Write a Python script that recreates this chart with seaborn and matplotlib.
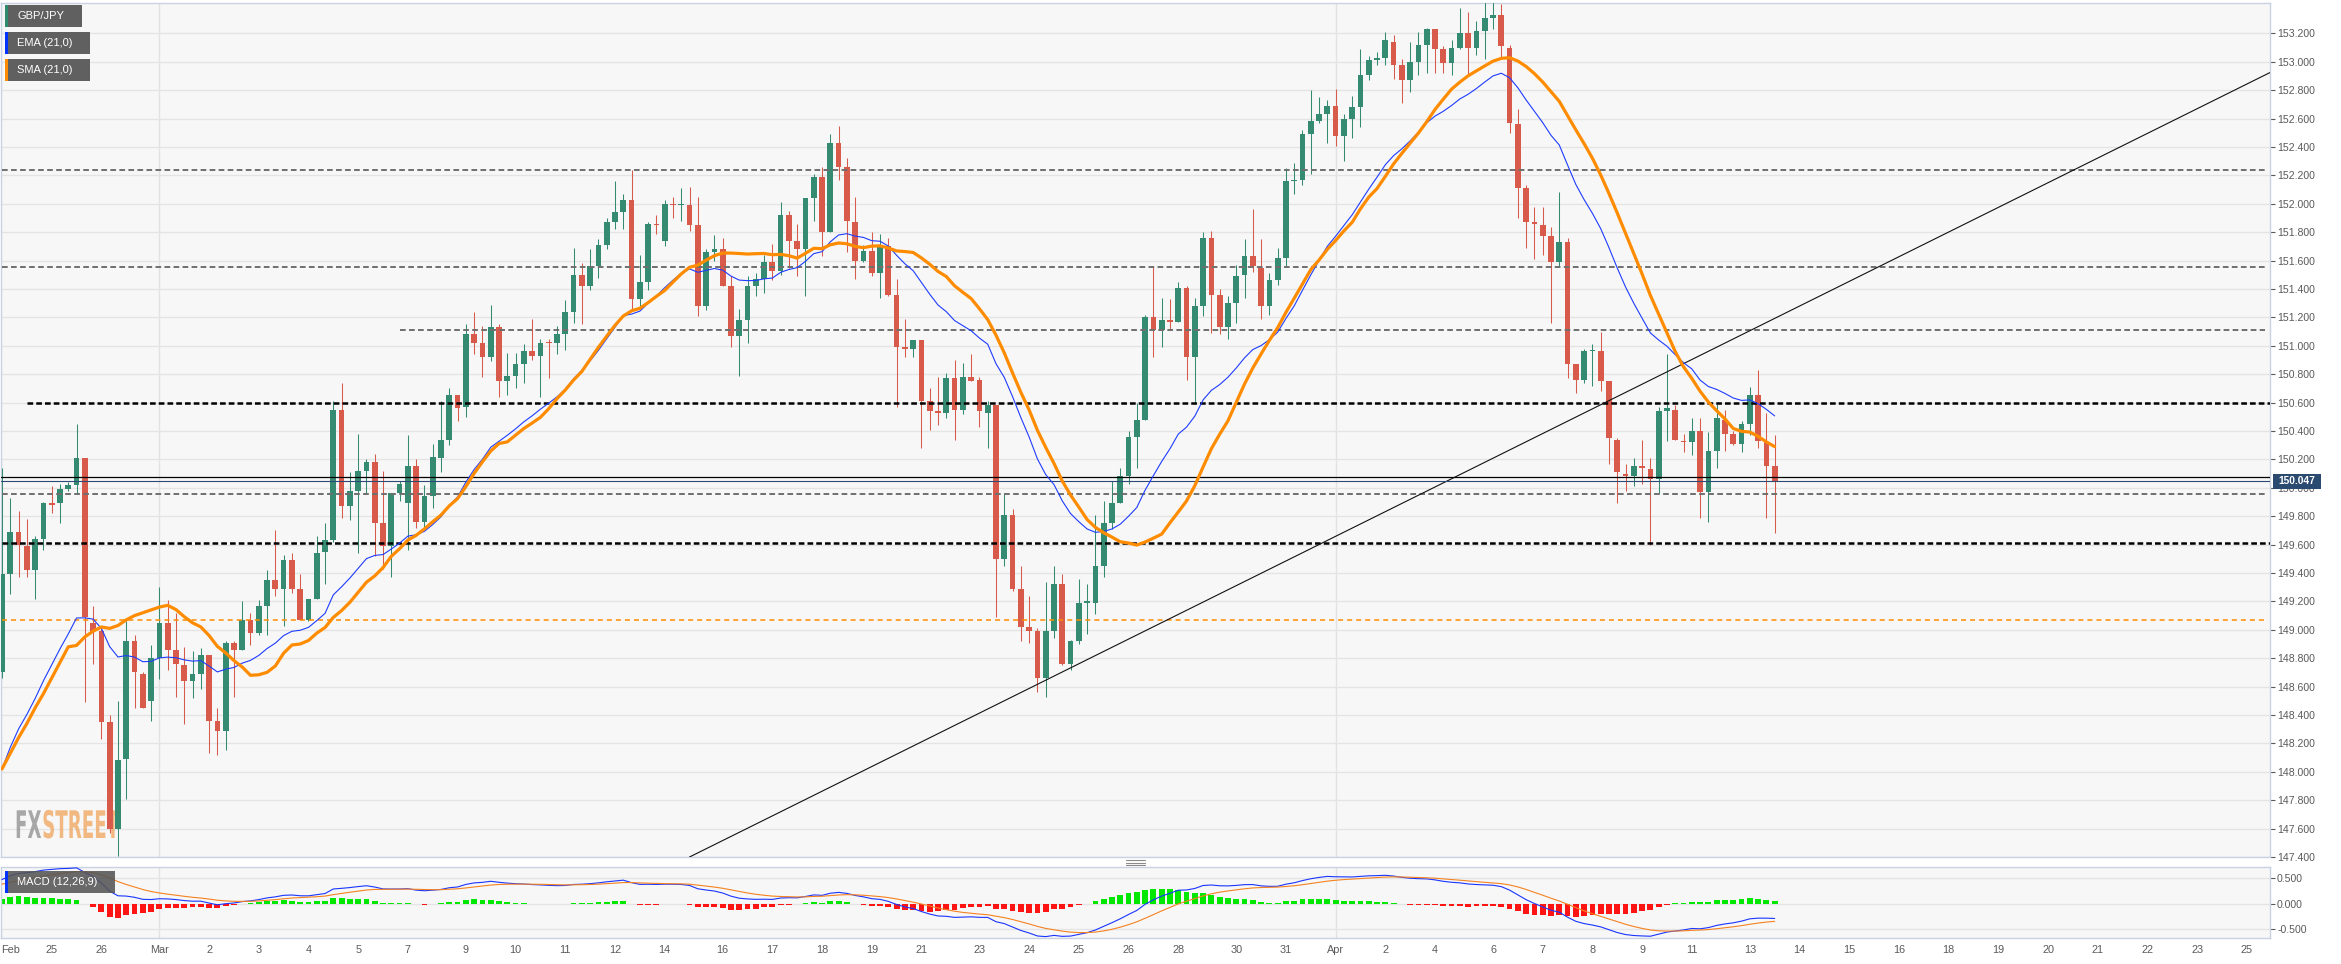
import numpy as np
import pandas as pd
import seaborn as sns
import matplotlib.pyplot as plt
from matplotlib.patches import Rectangle, PathPatch
from matplotlib.lines import Line2D
from matplotlib.textpath import TextPath
from matplotlib.font_manager import FontProperties
from matplotlib.transforms import Affine2D

# GBP/JPY 4H candles, index 0 = first visible candle
opens = [148.70, 149.39, 149.69, 149.59, 149.42, 149.64, 149.89, 149.89, 149.99, 150.02,
         150.21, 149.05, 148.99, 148.35, 147.60, 148.09, 148.92, 148.69, 148.50, 148.80,
         149.05, 148.86, 148.75, 148.64, 148.69, 148.82, 148.36, 148.29, 148.91, 148.86,
         149.07, 148.98, 149.17, 149.35, 149.29, 149.49, 149.29, 149.07, 149.22, 149.55,
         149.63, 150.55, 149.87, 149.98, 150.12, 150.18, 149.75, 149.59, 149.96, 149.89,
         150.15, 149.76, 149.94, 150.21, 150.34, 150.65, 150.57, 151.08, 151.02, 150.92,
         151.13, 150.75, 150.79, 150.87, 150.96, 150.93, 151.03, 151.02, 151.08, 151.24,
         151.50, 151.42, 151.56, 151.71, 151.87, 151.94, 152.03, 151.33, 151.45, 151.86,
         151.74, 152.00, 151.99, 151.99, 151.85, 151.28, 151.66, 151.68, 151.42, 151.07,
         151.18, 151.42, 151.47, 151.59, 151.53, 151.92, 151.74, 151.68, 152.04, 152.19,
         151.80, 152.43, 152.26, 151.87, 151.60, 151.67, 151.51, 151.70, 151.36, 150.99,
         150.98, 151.04, 150.61, 150.54, 150.53, 150.77, 150.55, 150.78, 150.76, 150.53,
         150.58, 149.50, 149.81, 149.29, 149.02, 148.99, 148.66, 148.99, 149.32, 148.76,
         148.92, 149.19, 149.19, 149.45, 149.75, 149.89, 150.08, 150.36, 150.48, 151.20,
         151.11, 151.18, 151.17, 151.41, 150.92, 151.28, 151.76, 151.36, 151.13, 151.30,
         151.50, 151.63, 151.55, 151.28, 151.46, 151.62, 152.16, 152.17, 152.49, 152.58,
         152.63, 152.69, 152.48, 152.60, 152.68, 152.91, 153.01, 153.03, 153.14, 152.98,
         152.87, 153.00, 153.12, 153.23, 153.09, 152.99, 153.10, 153.20, 153.10, 153.22,
         153.31, 153.33, 153.10, 152.56, 152.11, 151.87, 151.85, 151.77, 151.59, 151.73,
         150.87, 150.76, 150.96, 150.96, 150.75, 150.34, 150.10, 150.08, 150.15, 150.13,
         150.06, 150.54, 150.55, 150.33, 150.32, 150.40, 149.97, 150.26, 150.48, 150.38,
         150.31, 150.45, 150.65, 150.32, 150.15]
highs = [150.14, 149.93, 149.84, 149.78, 149.66, 149.90, 150.01, 150.03, 150.04, 150.45,
         150.21, 149.17, 149.02, 148.40, 148.50, 149.06, 148.96, 148.70, 148.89, 149.30,
         149.21, 149.12, 148.88, 148.85, 148.87, 148.82, 148.45, 148.92, 148.92, 149.20,
         149.12, 149.21, 149.42, 149.70, 149.53, 149.54, 149.39, 149.22, 149.66, 149.75,
         150.61, 150.74, 150.11, 150.38, 150.20, 150.24, 150.12, 149.96, 150.05, 150.37,
         150.20, 150.02, 150.31, 150.61, 150.70, 150.65, 151.15, 151.24, 151.14, 151.29,
         151.15, 150.95, 150.95, 151.01, 151.19, 151.05, 151.05, 151.14, 151.32, 151.69,
         151.58, 151.68, 151.75, 151.90, 152.16, 152.07, 152.24, 151.64, 151.87, 151.92,
         152.03, 152.05, 152.11, 152.12, 152.05, 151.68, 151.78, 151.76, 151.49, 151.26,
         151.49, 151.51, 151.64, 151.72, 152.01, 151.95, 151.86, 152.04, 152.21, 152.26,
         152.49, 152.55, 152.32, 152.05, 151.71, 151.80, 151.79, 151.76, 151.47, 151.19,
         151.04, 151.04, 150.70, 150.78, 150.81, 150.90, 150.88, 150.94, 150.78, 150.61,
         150.58, 149.96, 149.85, 149.45, 149.24, 149.01, 149.34, 149.45, 149.39, 148.93,
         149.36, 149.32, 149.81, 149.91, 150.05, 150.14, 150.40, 150.60, 151.22, 151.56,
         151.34, 151.33, 151.45, 151.42, 151.34, 151.80, 151.81, 151.40, 151.35, 151.57,
         151.75, 151.96, 151.75, 151.51, 151.69, 152.25, 152.29, 152.52, 152.80, 152.75,
         152.73, 152.81, 152.63, 152.76, 153.09, 153.04, 153.07, 153.21, 153.19, 153.02,
         153.14, 153.21, 153.24, 153.23, 153.11, 153.15, 153.38, 153.35, 153.29, 153.42,
         153.42, 153.41, 153.12, 152.67, 152.13, 151.98, 151.98, 151.84, 152.08, 151.76,
         150.87, 150.98, 151.01, 151.10, 150.75, 150.35, 150.17, 150.21, 150.34, 150.21,
         150.57, 150.94, 150.58, 150.38, 150.49, 150.49, 150.39, 150.59, 150.55, 150.40,
         150.47, 150.71, 150.83, 150.53, 150.37]
lows = [148.66, 149.25, 149.37, 149.37, 149.22, 149.56, 149.82, 149.75, 149.98, 149.96,
        148.49, 148.76, 148.23, 147.57, 147.41, 147.81, 148.45, 148.45, 148.36, 148.65,
        148.72, 148.53, 148.34, 148.52, 148.58, 148.13, 148.12, 148.15, 148.53, 148.86,
        148.89, 148.96, 148.96, 149.24, 149.03, 149.26, 149.07, 149.06, 149.22, 149.32,
        149.62, 149.79, 149.77, 149.54, 149.96, 149.52, 149.43, 149.37, 149.91, 149.56,
        149.72, 149.71, 149.86, 150.11, 150.30, 150.47, 150.50, 150.94, 150.78, 150.89,
        150.64, 150.65, 150.70, 150.74, 150.90, 150.64, 150.77, 150.94, 150.97, 151.16,
        151.15, 151.39, 151.48, 151.68, 151.82, 151.82, 151.26, 151.28, 151.39, 151.79,
        151.70, 151.90, 151.88, 151.81, 151.21, 151.25, 151.60, 151.42, 150.99, 150.79,
        151.02, 151.35, 151.37, 151.46, 151.50, 151.55, 151.49, 151.35, 151.88, 151.63,
        151.80, 152.17, 151.66, 151.47, 151.59, 151.49, 151.34, 151.35, 150.57, 150.92,
        150.92, 150.28, 150.41, 150.44, 150.49, 150.34, 150.52, 150.75, 150.43, 150.28,
        149.09, 149.45, 149.27, 148.92, 148.91, 148.56, 148.53, 148.94, 148.75, 148.72,
        148.90, 148.97, 149.11, 149.37, 149.71, 149.89, 150.03, 150.14, 150.48, 150.92,
        150.99, 151.12, 151.17, 150.76, 150.59, 151.21, 151.09, 151.08, 151.05, 151.16,
        151.34, 151.52, 151.19, 151.22, 151.43, 151.56, 152.07, 152.13, 152.21, 152.57,
        152.43, 152.41, 152.30, 152.46, 152.54, 152.87, 152.98, 152.98, 152.88, 152.71,
        152.79, 152.91, 152.92, 152.92, 152.92, 152.91, 153.09, 152.91, 153.05, 153.02,
        153.23, 153.03, 152.50, 151.90, 151.69, 151.61, 151.64, 151.16, 151.56, 150.77,
        150.67, 150.74, 150.72, 150.68, 150.17, 149.89, 149.98, 150.01, 150.03, 149.60,
        149.96, 150.33, 150.34, 150.25, 150.23, 149.79, 149.76, 150.14, 150.26, 150.30,
        150.25, 150.37, 150.28, 149.79, 149.68]
closes = [149.39, 149.69, 149.60, 149.42, 149.64, 149.89, 149.88, 149.99, 150.02, 150.21,
          149.09, 148.99, 148.35, 147.60, 148.08, 148.92, 148.70, 148.45, 148.80, 149.05,
          148.86, 148.76, 148.64, 148.69, 148.82, 148.36, 148.29, 148.91, 148.86, 149.07,
          148.98, 149.17, 149.35, 149.29, 149.49, 149.29, 149.07, 149.22, 149.54, 149.63,
          150.55, 149.87, 149.98, 150.12, 150.18, 149.75, 149.59, 149.96, 150.03, 150.15,
          149.76, 149.94, 150.22, 150.34, 150.65, 150.56, 151.08, 151.02, 150.92, 151.13,
          150.75, 150.79, 150.87, 150.96, 150.93, 151.02, 151.02, 151.08, 151.24, 151.50,
          151.42, 151.56, 151.71, 151.87, 151.94, 152.03, 151.33, 151.45, 151.86, 151.85,
          152.00, 151.99, 152.00, 151.85, 151.28, 151.66, 151.68, 151.42, 151.07, 151.18,
          151.42, 151.47, 151.59, 151.53, 151.92, 151.74, 151.68, 152.04, 152.19, 151.80,
          152.43, 152.26, 151.88, 151.60, 151.67, 151.51, 151.70, 151.36, 150.99, 150.98,
          151.04, 150.61, 150.54, 150.53, 150.77, 150.55, 150.78, 150.75, 150.54, 150.58,
          149.50, 149.81, 149.29, 149.02, 148.99, 148.66, 148.99, 149.32, 148.76, 148.92,
          149.19, 149.20, 149.45, 149.75, 149.89, 150.08, 150.36, 150.48, 151.20, 151.11,
          151.18, 151.17, 151.41, 150.92, 151.28, 151.76, 151.36, 151.13, 151.30, 151.49,
          151.63, 151.56, 151.28, 151.46, 151.62, 152.16, 152.17, 152.49, 152.58, 152.63,
          152.69, 152.48, 152.60, 152.68, 152.91, 153.01, 153.03, 153.15, 152.98, 152.87,
          153.00, 153.12, 153.23, 153.09, 152.99, 153.10, 153.20, 153.10, 153.22, 153.31,
          153.33, 153.11, 152.57, 152.11, 151.87, 151.86, 151.77, 151.59, 151.73, 150.87,
          150.76, 150.96, 150.97, 150.75, 150.35, 150.11, 150.08, 150.15, 150.14, 150.06,
          150.54, 150.56, 150.34, 150.32, 150.40, 149.97, 150.26, 150.49, 150.38, 150.31,
          150.45, 150.65, 150.33, 150.15, 150.047]

# indicator values at the left edge (history before the first candle is off screen)
ema21_start = 148.02
sma21_head = [148.02, 148.13, 148.24, 148.34, 148.45, 148.55, 148.66, 148.77, 148.88, 148.89,
              148.95, 148.99, 149.02, 149.01, 149.03, 149.07, 149.10, 149.12, 149.14, 149.16]
ema12_start = 148.32
ema26_start = 147.85
signal_start = 0.38

# drawn levels
level_prices = [152.24, 151.555, 151.11, 150.60, 149.956, 149.61, 149.07]
level_starts = [0, 0, 48, 3, 0, 0, 0]
level_kinds = ['grey', 'grey', 'grey', 'black', 'grey', 'black', 'orange']
trend_x = [83, 274]
trend_y = [147.40, 152.93]
prev_line = 150.075
last_price = 150.047

tick_pos = [1, 6, 12, 19, 25, 31, 37, 43, 49, 56, 62, 68, 74, 80, 87, 93, 99, 105, 111, 118,
            124, 130, 136, 142, 149, 155, 161, 167, 173, 180, 186, 192, 198, 204, 211, 217,
            223, 229, 235, 241, 247, 253, 259, 265, 271]
tick_labels = ['Feb', '25', '26', 'Mar', '2', '3', '4', '5', '7', '9', '10', '11', '12', '14',
               '16', '17', '18', '19', '21', '23', '24', '25', '26', '28', '30', '31', 'Apr',
               '2', '4', '6', '7', '8', '9', '11', '13', '14', '15', '16', '18', '19', '20',
               '21', '22', '23', '25']
month_lines = [19, 161]

# ---- indicators ----
close = pd.Series(closes)
idx = np.arange(len(closes))
ema21 = pd.Series([ema21_start] + closes[1:]).ewm(span=21, adjust=False).mean()
sma21 = close.rolling(21).mean()
sma21.iloc[:20] = sma21_head
ema12 = pd.Series([ema12_start] + closes[1:]).ewm(span=12, adjust=False).mean()
ema26 = pd.Series([ema26_start] + closes[1:]).ewm(span=26, adjust=False).mean()
macd = ema12 - ema26
signal = pd.Series([signal_start] + list(macd.iloc[1:])).ewm(span=9, adjust=False).mean()
hist = macd - signal

# ---- figure ----
sns.set_style('white')
plt.rcParams['font.family'] = ['Liberation Sans', 'DejaVu Sans']
plt.rcParams['lines.scale_dashes'] = False

W, H = 2341, 964
fig = plt.figure(figsize=(W / 100, H / 100), dpi=100)
fig.patch.set_facecolor('white')

def frac(x0, y0, x1, y1):
    return [x0 / W, 1 - y1 / H, (x1 - x0) / W, (y1 - y0) / H]

ax = fig.add_axes(frac(1, 3, 2270, 857))
ax2 = fig.add_axes(frac(1, 867, 2270, 938))

edge = '#c9d2e3'
txt = '#5a5a5a'
for a in (ax, ax2):
    a.set_facecolor('#f7f7f7')
    for s in a.spines.values():
        s.set_color(edge)
        s.set_linewidth(1)
    a.set_xlim(-0.12, 273.8)
    a.yaxis.tick_right()
    a.tick_params(axis='y', colors=txt, labelcolor=txt, length=3.6, width=0.8, pad=1.5, labelsize=7.6)
    for m in month_lines:
        a.axvline(m, color='#e2e2e2', lw=1, zorder=0.5)

# main panel
ax.set_ylim(147.4, 153.414)
yt = np.round(np.arange(147.4, 153.21, 0.2), 3)
ax.set_yticks(yt)
ax.set_yticklabels([f'{v:.3f}' for v in yt])
for v in yt:
    ax.axhline(v, color='#e4e4e4', lw=1, zorder=0.5)
ax.set_xticks([])

# watermark behind the candles: condensed "FXSTREET" from glyph outlines (pixel coords)
wm_font = FontProperties(family='DejaVu Sans', weight='bold')
x_cursor = 15
for part, colour in (('FX', '#8c8c8c'), ('STREET', '#f0a45a')):
    tp = TextPath((0, 0), part, size=38, prop=wm_font)
    width = tp.get_extents().x1
    tr = Affine2D().scale(0.48, 1.0).translate(x_cursor, H - 838)
    wm = PathPatch(tp, transform=tr, facecolor=colour, edgecolor='none', alpha=0.75, zorder=1)
    wm.set_clip_on(False)
    ax.add_artist(wm)
    x_cursor += width * 0.48 + 1

green, red = '#358a72', '#d75a4b'
o, c, h, l = map(np.array, (opens, closes, highs, lows))
cols = [green if cc >= oo else red for oo, cc in zip(o, c)]
ax.vlines(idx, l, h, colors=cols, linewidth=0.75, zorder=3)
ax.bar(idx, np.maximum(np.abs(c - o), 0.009), bottom=np.minimum(o, c), width=0.69,
       color=cols, linewidth=0, zorder=3)

styles = {
    'grey': dict(color='#6f6f6f', lw=1.4, dashes=(4.1, 2.4)),
    'black': dict(color='#000000', lw=1.8, dashes=(4.1, 2.2)),
    'orange': dict(color='#ff8c00', lw=1.1, dashes=(3.6, 2.9)),
}
for price, start, kind in zip(level_prices, level_starts, level_kinds):
    end = 273.8 if kind == 'black' else 273.2
    ax.plot([start, end], [price, price], zorder=4, **styles[kind])

ax.plot(trend_x, trend_y, color='#111111', lw=0.8, zorder=4)
ax.axhline(prev_line, color='#000000', lw=0.9, zorder=4)
ax.axhline(last_price, color='#2c4a75', lw=0.8, zorder=4)

sns.lineplot(x=idx, y=ema21.values, ax=ax, color='#1e3cff', linewidth=0.8, zorder=5, legend=False)
sns.lineplot(x=idx, y=sma21.values, ax=ax, color='#ff8c00', linewidth=2.3, zorder=5, legend=False)
ax.set_xlabel('')
ax.set_ylabel('')

# MACD panel
ax2.set_ylim(-0.676, 0.716)
ax2.set_yticks([0.5, 0.0, -0.5])
ax2.set_yticklabels(['0.500', '0.000', '-0.500'])
for v in (0.5, 0.0, -0.5):
    ax2.axhline(v, color='#e4e4e4', lw=1, zorder=0.5)
hcols = ['#00e800' if v >= 0 else '#ff1414' for v in hist]
ax2.bar(idx, hist.values, width=0.7, color=hcols, linewidth=0, zorder=2)
sns.lineplot(x=idx, y=macd.values, ax=ax2, color='#1a35ff', linewidth=0.8, zorder=3, legend=False)
sns.lineplot(x=idx, y=signal.values, ax=ax2, color='#f58220', linewidth=0.8, zorder=3, legend=False)
ax2.set_xlabel('')
ax2.set_ylabel('')
ax2.set_xticks(tick_pos)
ax2.set_xticklabels(tick_labels)
ax2.tick_params(axis='x', colors=txt, labelcolor=txt, length=2.2, width=0.8, pad=2.5, labelsize=7.8)

# legend boxes
def box(x0, y0, x1, y1, color, alpha=1.0, z=10):
    fig.add_artist(Rectangle(frac(x0, y0, x1, y1)[:2], (x1 - x0) / W, (y1 - y0) / H,
                             transform=fig.transFigure, facecolor=color, edgecolor='none',
                             alpha=alpha, zorder=z))

labels = [('GBP/JPY', 5, 27, 82, '#2e8b70'),
          ('EMA (21,0)', 32, 54, 90, '#0033ff'),
          ('SMA (21,0)', 59, 81, 90, '#ff8c00')]
for text, y0, y1, x1, bar in labels:
    box(5, y0, x1, y1, '#606060')
    box(5, y0, 8, y1, bar, z=11)
    fig.text(17 / W, 1 - (y0 + y1) / 2 / H, text, color='white', fontsize=8,
             va='center', ha='left', zorder=12)

box(5, 871, 115, 893, '#555555', alpha=0.88)
box(5, 871, 7.5, 893, '#0033ff', z=11)
fig.text(17 / W, 1 - 882 / H, 'MACD (12,26,9)', color='white', fontsize=8,
         va='center', ha='left', zorder=12)

# current price tag
box(2273, 474, 2321, 489, '#2b4a6f', z=12)
fig.text(2297 / W, 1 - 481.5 / H, f'{last_price:.3f}', color='white', fontsize=7.4,
         fontweight='bold', va='center', ha='center', zorder=13)

# panel handle
for yy in (860, 862.5, 865):
    fig.add_artist(Line2D([1126 / W, 1145 / W], [1 - yy / H, 1 - yy / H],
                          color='#8a8a8a', lw=0.8, transform=fig.transFigure))

fig.savefig('out.png', dpi=100)
